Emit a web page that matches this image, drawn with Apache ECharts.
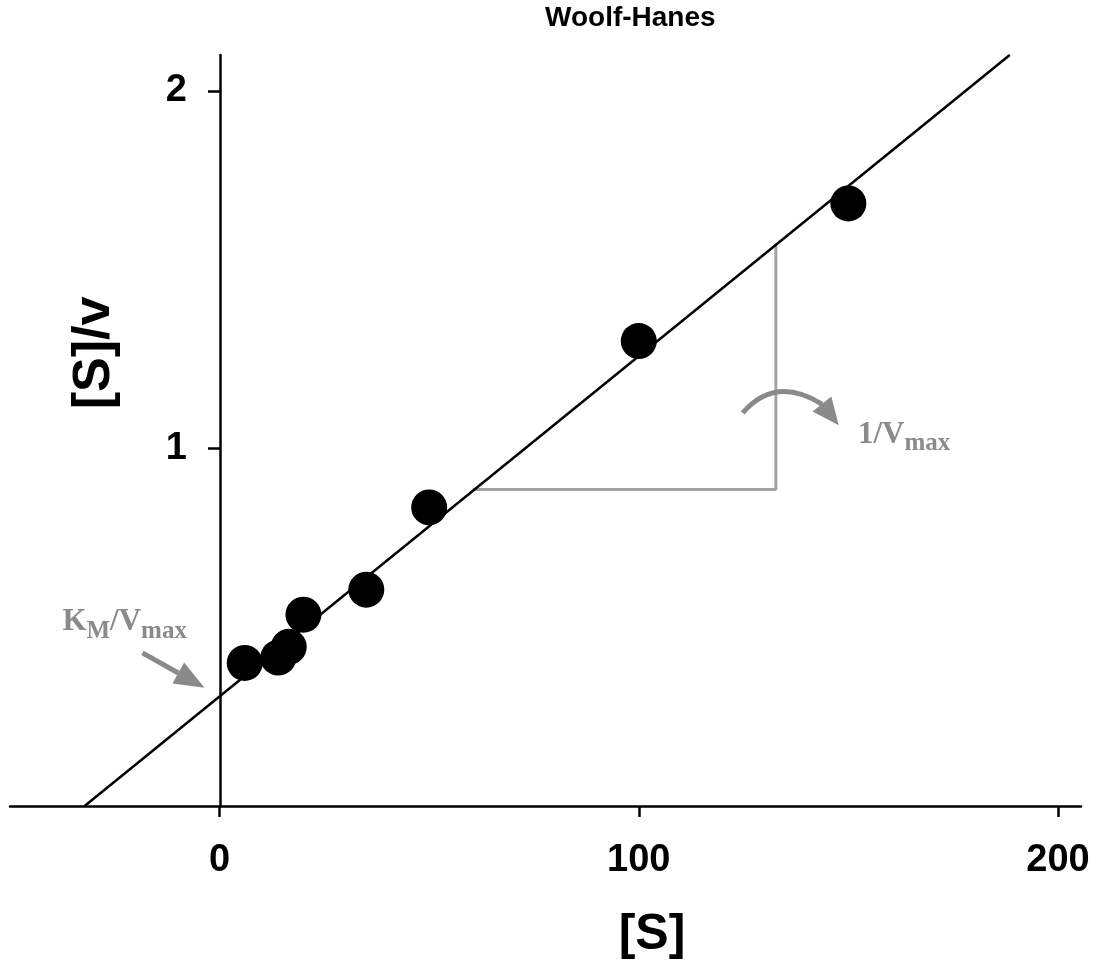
<!DOCTYPE html>
<html>
<head>
<meta charset="utf-8">
<style>html,body{margin:0;padding:0;background:#fff;}#c{width:1100px;height:970px;}</style>
<script src="https://cdn.jsdelivr.net/npm/echarts@6/dist/echarts.min.js"></script>
</head>
<body>
<div id="c"></div>
<script>
// ---- data ----
const xTicks = [0, 100, 200];
const yTicks = [1, 2];
const sValues = [6, 14, 16.5, 20, 35, 50, 100, 150];
const sOverV = [0.40, 0.415, 0.445, 0.535, 0.605, 0.835, 1.30, 1.685];
const fitX = [-32.2, 188.5];
const fitY = [0, 2.1];
const triX = [60.4, 132.7, 132.7];
const triY = [0.885, 0.885, 1.573];
// annotation anchors (data coordinates)
const kmArrow = [[-18.4, 0.428], [-3.6, 0.331]];            // start, tip
const vmaxArc = [[124.8, 1.099], [132.5, 1.205], [143.7, 1.124]]; // start, control, shaft end
const vmaxTip = [147.5, 1.068];
const kmLabelPos = [-37.5, 0.557];
const vmaxLabelPos = [152.3, 1.082];

const BLACK = '#000';
const GRAY = '#8a8a8a';
const LIGHTGRAY = '#a3a3a3';
const SANS = '"Liberation Sans", Arial, sans-serif';
const SERIF = '"Liberation Serif", "Times New Roman", serif';

const chart = echarts.init(document.getElementById('c'), null, {renderer: 'canvas'});

const scatterData = sValues.map((x, i) => [x, sOverV[i]]);
const fitData = fitX.map((x, i) => [x, fitY[i]]);
const triData = triX.map((x, i) => [x, triY[i]]);

chart.setOption({
  animation: false,
  backgroundColor: '#fff',
  title: {
    text: 'Woolf-Hanes',
    left: 545, top: 4, padding: 0,
    textStyle: {fontFamily: SANS, fontSize: 28, fontWeight: 'bold', color: BLACK}
  },
  grid: {left: 10, right: 19, top: 55, bottom: 164, containLabel: false, outerBoundsMode: 'none'},
  xAxis: {
    type: 'value', min: -50, max: 205.5,
    splitLine: {show: false},
    axisLine: {show: true, onZero: false, lineStyle: {color: BLACK, width: 2.5}},
    axisTick: {show: true, customValues: xTicks, length: 11, lineStyle: {color: BLACK, width: 2.5}},
    axisLabel: {customValues: xTicks, margin: 36, fontFamily: SANS, fontSize: 38, fontWeight: 'bold', color: BLACK}
  },
  yAxis: {
    type: 'value', min: 0, max: 2.1,
    offset: -210,
    splitLine: {show: false},
    axisLine: {show: true, onZero: false, lineStyle: {color: BLACK, width: 2.5}},
    axisTick: {show: true, customValues: yTicks, length: 12, lineStyle: {color: BLACK, width: 2.5}},
    axisLabel: {customValues: yTicks, margin: 33, fontFamily: SANS, fontSize: 38, fontWeight: 'bold', color: BLACK}
  },
  series: [
    {
      type: 'line', data: triData, showSymbol: false, symbol: 'none', silent: true, z: 1,
      lineStyle: {color: LIGHTGRAY, width: 3}
    },
    {
      type: 'line', data: fitData, showSymbol: false, symbol: 'none', silent: true, z: 2,
      lineStyle: {color: BLACK, width: 2.5}
    },
    {
      type: 'scatter', data: scatterData, symbol: 'circle', symbolSize: 36, z: 3,
      itemStyle: {color: BLACK, opacity: 1}
    }
  ]
});

function px(p) { return chart.convertToPixel({gridIndex: 0}, p); }

function headPolygon(from, tip, len, half) {
  const dx = tip[0] - from[0], dy = tip[1] - from[1];
  const L = Math.sqrt(dx * dx + dy * dy);
  const ux = dx / L, uy = dy / L;
  const bx = tip[0] - ux * len, by = tip[1] - uy * len;
  return {
    base: [bx, by],
    points: [[tip[0], tip[1]], [bx - uy * half, by + ux * half], [bx + uy * half, by - ux * half]]
  };
}

const g = [];
// straight arrow to K_M/V_max intercept
(function () {
  const a = px(kmArrow[0]), t = px(kmArrow[1]);
  const h = headPolygon(a, t, 30, 12);
  g.push({type: 'line', shape: {x1: a[0], y1: a[1], x2: h.base[0], y2: h.base[1]}, style: {stroke: GRAY, lineWidth: 5}, z: 10});
  g.push({type: 'polygon', shape: {points: h.points}, style: {fill: GRAY}, z: 10});
})();
// curved arrow for slope
(function () {
  const s = px(vmaxArc[0]), c = px(vmaxArc[1]), e = px(vmaxArc[2]), t = px(vmaxTip);
  g.push({type: 'bezierCurve', shape: {x1: s[0], y1: s[1], cpx1: c[0], cpy1: c[1], x2: e[0], y2: e[1]}, style: {stroke: GRAY, lineWidth: 5, fill: null}, z: 10});
  const h = headPolygon(e, t, 27, 12);
  const ox = e[0] - h.base[0], oy = e[1] - h.base[1];
  g.push({type: 'polygon', shape: {points: h.points.map(p => [p[0] + ox, p[1] + oy])}, style: {fill: GRAY}, z: 10});
})();
// annotation labels
const richStyle = {
  a: {fontFamily: SERIF, fontSize: 31, fontWeight: 'bold', lineHeight: 31, verticalAlign: 'top', fill: GRAY, color: GRAY},
  b: {fontFamily: SERIF, fontSize: 25, fontWeight: 'bold', lineHeight: 25, verticalAlign: 'top', padding: [12, 0, 0, 0], fill: GRAY, color: GRAY}
};
(function () {
  const p = px(kmLabelPos);
  g.push({type: 'text', x: p[0], y: p[1], z: 10, style: {text: '{a|K}{b|M}{a|/V}{b|max}', rich: richStyle, align: 'left', verticalAlign: 'top', fill: GRAY}});
  const q = px(vmaxLabelPos);
  g.push({type: 'text', x: q[0], y: q[1], z: 10, style: {text: '{a|1/V}{b|max}', rich: richStyle, align: 'left', verticalAlign: 'top', fill: GRAY}});
})();
// axis names
g.push({type: 'text', x: 652, y: 935, z: 10, style: {text: '[S]', font: 'bold 50px ' + SANS, fill: BLACK, align: 'center', verticalAlign: 'middle'}});
g.push({type: 'text', x: 95, y: 353, rotation: Math.PI / 2, z: 10, style: {text: '[S]/v', font: 'bold 52px ' + SANS, fill: BLACK, align: 'center', verticalAlign: 'middle'}});

chart.setOption({graphic: g});
</script>
</body>
</html>
